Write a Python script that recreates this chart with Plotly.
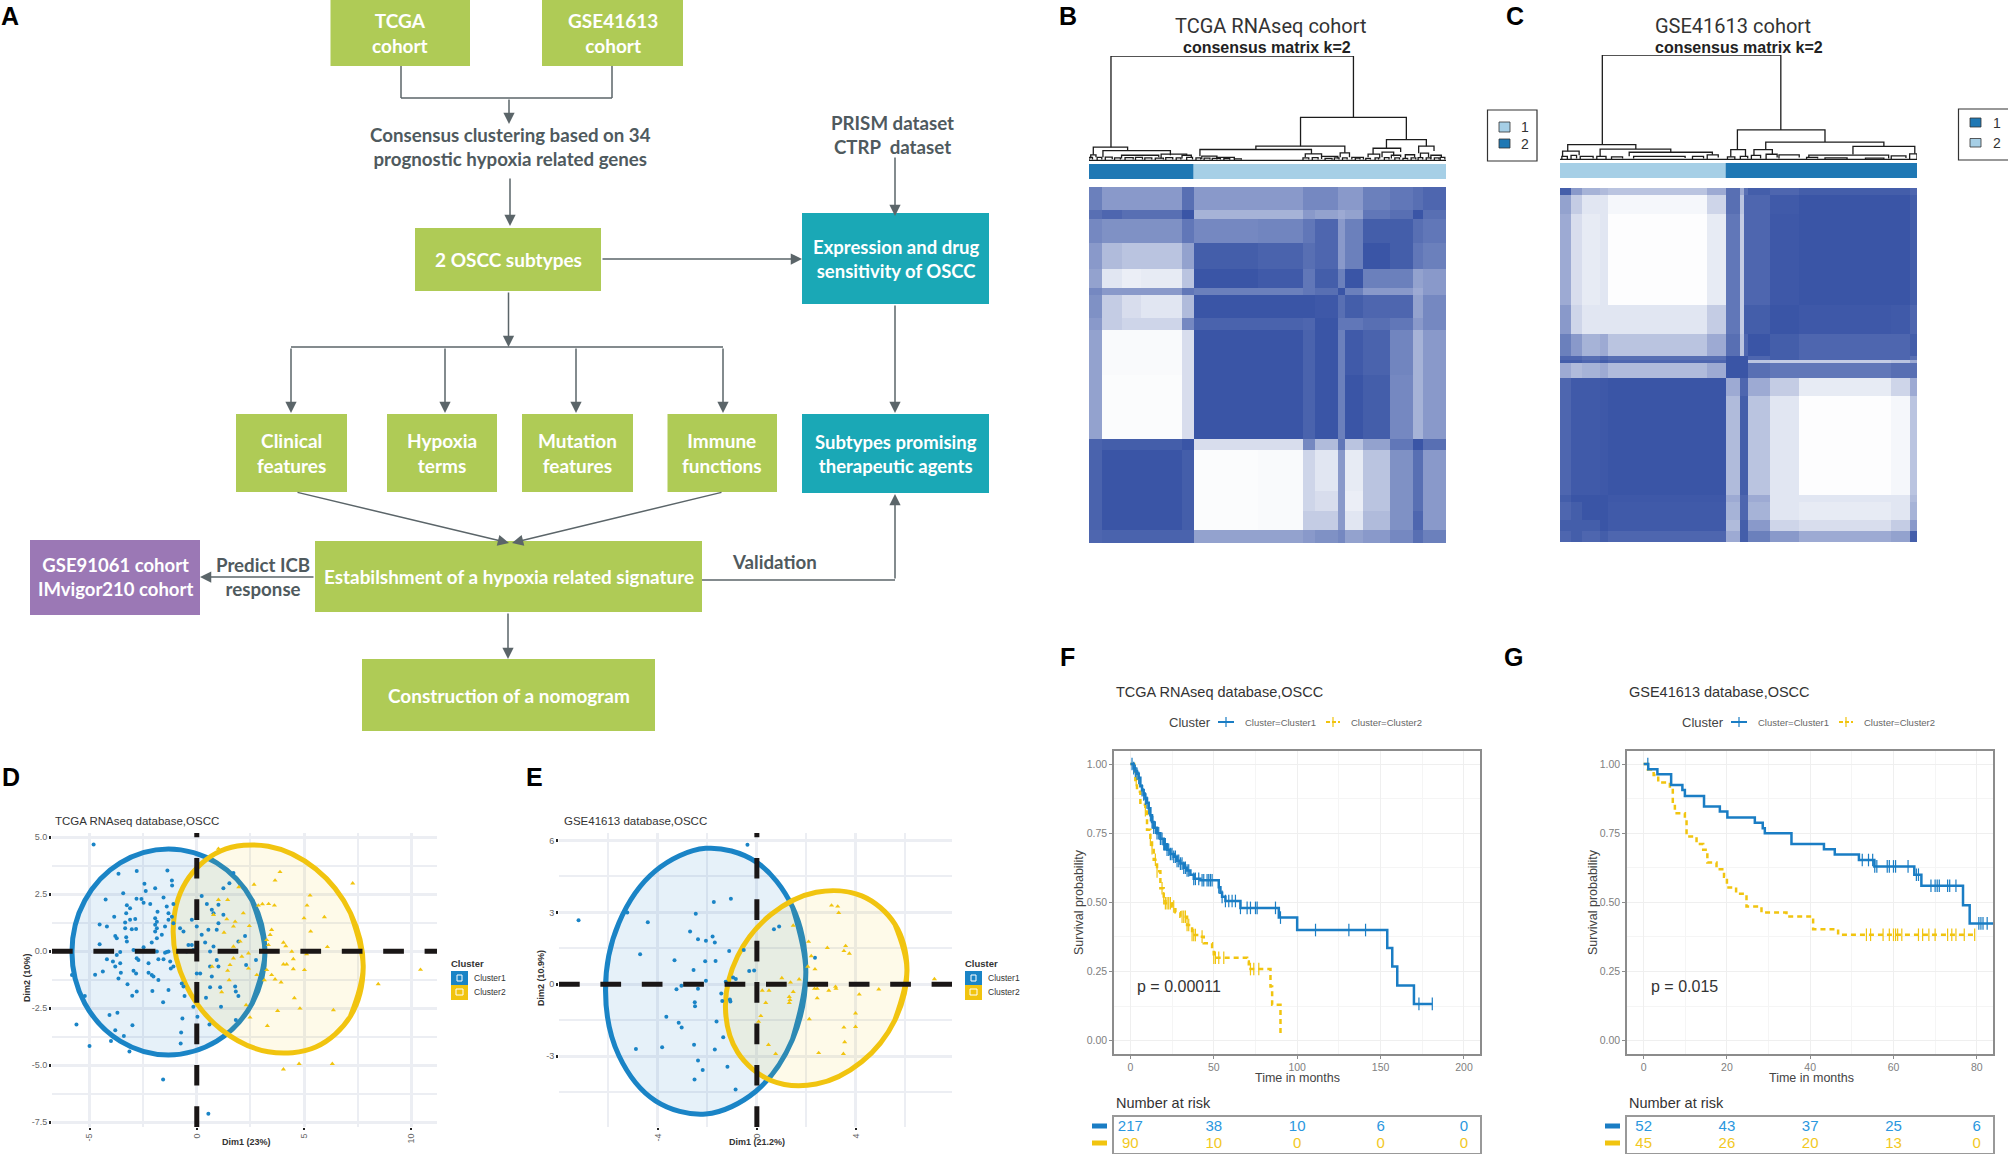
import numpy as np
import plotly.graph_objects as go

W, H = 2008, 1154
BLUE, YEL = "#1A84C6", "#F1C40F"
GREEN, TEAL, PURPLE = "#AFCB56", "#1AA8B6", "#9B78B5"
LIGHTBAR, DARKBAR = "#A6CFE6", "#1F78B4"
ARROW = "#5B6569"
FLOW = "Lato,'Open Sans',sans-serif"
ROBOTO = "Roboto,'Liberation Sans',sans-serif"
ARIAL = "'Liberation Sans',Arial,sans-serif"

# ---------- flowchart text ----------
green_labels = ["TCGA<br>cohort", "GSE41613<br>cohort", "2 OSCC subtypes", "Clinical<br>features", "Hypoxia<br>terms",
                "Mutation<br>features", "Immune<br>functions", "Estabilshment of a hypoxia related signature",
                "Construction of a nomogram"]
teal_labels = ["Expression and drug<br>sensitivity of OSCC", "Subtypes promising<br>therapeutic agents"]
purple_labels = ["GSE91061 cohort<br>IMvigor210 cohort"]

# ---------- consensus matrices ----------
b_edges = [0, 11, 28, 45, 80, 90, 145, 184, 194, 214, 220, 236, 259, 279, 287, 307]
b_matrix = [
    [.9, .92, .92, .92, .92, .55, .55, .6, .65, .7, .55, .6, .7, .85, .75],
    [.92, 1, 1, 1, .95, .02, .03, .3, .3, .6, .15, .4, .65, .9, .6],
    [.92, 1, 1, 1, .95, .02, .03, .25, .2, .6, .1, .35, .65, .85, .6],
    [.92, 1, 1, 1, .95, .02, .03, .25, .15, .6, .12, .35, .65, .85, .6],
    [.92, .95, .95, .95, 1, .2, .2, .7, .4, .8, .35, .55, .8, 1, .85],
    [.55, .02, .02, .02, .2, 1, 1, .92, 1, .75, 1, .95, .7, .45, .6],
    [.55, .03, .03, .03, .2, 1, 1, .92, 1, .75, .97, .92, .72, .45, .6],
    [.6, .3, .25, .25, .7, .92, .92, .9, 1, .8, .8, .85, .8, .6, .7],
    [.65, .3, .2, .15, .4, 1, 1, 1, .98, .85, .95, .9, .9, .55, .7],
    [.7, .6, .6, .6, .8, .75, .75, .8, .85, 1, .75, .6, .6, .5, .6],
    [.55, .15, .1, .12, .35, 1, .97, .8, .95, .75, 1, .75, .75, .55, .6],
    [.6, .4, .35, .35, .55, .95, .92, .85, .9, .6, .75, 1, .95, .8, .75],
    [.7, .65, .65, .65, .8, .7, .72, .8, .9, .6, .75, .95, .95, .85, .8],
    [.85, .9, .85, .85, 1, .45, .45, .6, .55, .5, .55, .8, .85, 1, .85],
    [.75, .6, .6, .6, .85, .6, .6, .7, .7, .6, .6, .75, .8, .85, .9],
]
c_edges = [0, 3, 6, 11, 13, 40, 45, 49, 50, 51, 57, 65, 90, 95, 97]
c_matrix = [
    [.9, .95, .9, .95, .9, .9, .5, .95, .95, .75, .6, .5, .55, .95],
    [.95, .95, .95, 1, .97, .97, .4, .95, .95, .6, .25, .2, .3, .6],
    [.9, .95, 1, 1, .97, .97, .45, .9, .9, .45, .15, .12, .15, .45],
    [.95, 1, 1, 1, .98, .98, .5, .9, .9, .5, .15, .15, .15, .4],
    [.9, .97, .97, .98, 1, 1, .4, .95, .95, .35, .15, .01, .05, .35],
    [.9, .97, .97, .98, 1, 1, .5, .9, .9, .5, .3, .12, .25, .5],
    [.5, .4, .45, .5, .4, .5, 1, 1, 1, .85, .8, .8, .85, .85],
    [.95, .95, .9, .95, .9, .9, 1, 1, 1, .35, .3, .3, .35, .5],
    [.9, .9, .85, .9, .85, .85, 1, 1, 1, .9, .95, .9, .9, .85],
    [.75, .6, .45, .5, .35, .5, .85, .35, .9, 1, .95, .9, .9, .95],
    [.6, .25, .15, .15, .15, .3, .8, .3, .95, .95, 1, .98, .97, .9],
    [.5, .2, .12, .15, .01, .12, .8, .3, .9, .9, .98, 1, 1, .95],
    [.55, .3, .15, .15, .05, .25, .85, .35, .9, .9, .97, 1, 1, .95],
    [.95, .6, .45, .4, .35, .5, .85, .5, .85, .95, .9, .95, .95, .9],
]
heat_scale = [[0, "#FFFFFF"], [1, "#3A55A6"]]

# ---------- dendrogram links: left, right, height, left drop, right drop ----------
b_links = [
    (18.9, 227.4, 1, .127, .413), (181.9, 272.9, .413, .137, .2), (143.5, 220, .137, .105, .073),
    (95.4, 191.3, .105, .041, .063), (255.8, 290.1, .2, .117, .137), (244.3, 268, .117, .06, .08),
    (283.5, 296.7, .137, .07, .09), (3.7, 33.2, .127, .054, .095), (1.5, 6, .054, .02, .03),
    (12, 70, .095, .03, .05), (28, 60, .05, .02, .03), (62, 84, .06, .02, .05), (80, 88, .05, .02, .03),
    (97, 110, .041, .015, .02), (110, 125, .03, .01, .015), (186, 200, .063, .03, .03), (200, 214, .04, .015, .02),
    (216, 224, .073, .03, .03), (226, 236, .03, .01, .01), (240, 250, .06, .03, .02), (252, 262, .08, .03, .04),
    (260, 268, .05, .02, .03), (272, 280, .055, .02, .03), (285, 292, .07, .03, .03), (294, 303, .05, .02, .03),
    (0, 3, .03, 0, .01), (7, 11, .03, 0, .01), (14, 20, .032, 0, .012), (22, 27, .025, 0, .01), (31, 38, .028, 0, .01),
    (40, 46, .03, 0, .01), (48, 54, .025, 0, .01), (57, 64, .022, 0, .01), (66, 72, .028, 0, .01), (75, 79, .025, 0, .01),
    (84, 89, .03, 0, .01), (92, 96, .025, 0, .01), (99, 104, .022, 0, .01), (106, 113, .02, 0, .01), (116, 121, .018, 0, .008),
    (125, 131, .015, 0, .006), (184, 189, .025, 0, .01), (192, 197, .028, 0, .01), (203, 209, .02, 0, .008), (211, 215, .025, 0, .01),
    (218, 222, .025, 0, .01), (229, 233, .022, 0, .01), (238, 242, .02, 0, .01), (246, 249, .025, 0, .01), (254, 258, .028, 0, .01),
    (263, 267, .025, 0, .01), (270, 274, .02, 0, .01), (277, 281, .025, 0, .01), (283, 287, .028, 0, .01), (290, 294, .025, 0, .01),
    (297, 301, .025, 0, .01), (302, 306, .03, 0, .01),
]
c_links = [
    (11.5, 60, 1, .142, .283), (2.1, 20.6, .142, .079, .1), (10.9, 30.1, .1, .03, .069), (18.8, 41.4, .069, .03, .045),
    (.7, 5.2, .079, .03, .04), (.5, 2, .03, 0, 0), (3, 4.5, .04, 0, .01), (5.5, 9, .03, 0, .01), (10, 12.5, .03, 0, 0),
    (14, 17, .025, 0, .01), (20, 34, .03, .01, .015), (36, 39, .03, 0, .01), (40, 43, .045, 0, .02),
    (48.2, 72, .283, .094, .167), (46.4, 50.4, .094, .025, .03), (45.5, 47.5, .025, 0, 0), (49, 51, .03, 0, .01),
    (55.9, 88, .167, .094, .126), (52.7, 57.7, .094, .04, .05), (52, 54.5, .04, 0, .01), (56, 59, .05, 0, .02),
    (59.5, 65, .045, .01, .02), (79.6, 96.4, .126, .047, .054), (67.6, 89.3, .042, .02, .01), (67, 70, .02, 0, .01),
    (72, 78, .015, 0, .005), (90, 94, .035, 0, .015), (95, 97, .054, 0, 0), (83, 88, .012, 0, .005),
]
b_groups = [90, 217]
c_groups = [45, 52]

# ---------- PCA panel D ----------
d_blue_x = [-4.81,-3.65,-2.80,-1.37,-1.16,-1.15,-2.44,-2.38,-1.94,-3.43,-4.25,-2.81,-2.58,-2.48,-2.17,-1.55,-1.09,-3.26,-3.11,-3.29,-3.85,-1.83,-1.40,-1.32,-1.16,-4.53,-4.19,-3.34,-3.11,-2.87,-3.34,-3.03,-2.83,-1.94,-1.86,-1.94,-1.86,-1.94,-1.48,-3.80,-3.73,-3.29,-3.26,-4.53,-2.48,-2.10,-1.86,-1.63,-1.32,-1.09,-.78,-.62,-.23,0,.23,.47,.70,.78,1.01,1.24,1.52,1.71,1.24,1.01,.93,.54,.23,-.23,-.39,-.16,-.47,-1.32,-1.48,-1.40,-1.86,-2.95,-3.57,-3.73,-4.19,-3.91,-3.80,-3.57,-2.80,-2.72,-2.25,-1.79,-1.55,-1.24,-1.09,-1.21,-4.74,-4.38,-3.65,-3.54,-2.95,-2.83,-2.25,-2.10,-1.79,-2.02,-3.23,-2.80,-3.01,-2.07,-1.32,-1.57,-.70,-.62,-.57,0,.16,.62,.93,.62,.39,.78,1.01,.70,.62,1.09,.43,1.79,1.82,1.94,2.25,1.94,2.76,2.30,-.16,1.13,-.67,.03,.59,1.82,-3.0,-4.07,-3.70,-3.80,-3.40,-5.61,-5.0,-4.0,-3.14,-.73,-.75,-5.82,-5.22,-1.57,.54]
d_blue_y = [4.68,3.40,3.52,3.55,3.11,2.89,2.96,2.65,2.77,2.55,2.27,2.30,2.29,2.13,2.07,2.36,2.08,2.02,1.89,1.67,1.52,1.73,1.96,1.67,1.52,1.17,1.09,1.26,1.38,1.42,1.01,.97,.98,1.45,1.30,1.16,1.01,.87,1.09,.67,.57,.62,.43,.31,.18,.38,.57,.72,1.38,1.23,1.01,.87,1.38,1.09,2.43,2.07,1.82,1.67,2.04,2.77,2.99,3.43,1.60,1.23,.94,.94,.72,.28,.28,.06,-.01,-.01,-.06,-.03,-.01,.06,-.03,-.16,-.35,-.45,-.67,-.53,-.31,-.38,-.53,-.35,-.35,-.45,-.67,-.75,-1.03,-.89,-1.19,-.94,-.85,-.97,-.94,-1.04,-1.26,-1.11,-1.45,-1.77,-1.95,-1.74,-1.70,-2.24,-1.41,-1.55,-1.96,-.97,-.97,-.67,-.38,-.01,.38,.21,-.67,-1.11,-1.58,-1.58,-2.04,-1.55,-1.77,-1.96,.67,.43,-.38,-.60,-2.43,-2.43,-2.95,-2.87,-3.21,-3.02,-3.24,-2.80,-2.70,-3.46,-3.72,-3.21,-4.16,-3.94,-4.40,-3.56,-4.05,-1.04,-1.96,-5.63,-7.13]
d_yel_x = [1.01,3.88,3.65,2.67,7.27,1.96,5.28,1.01,1.44,2.87,3.06,3.35,3.62,5.14,.78,1.40,1.79,2.17,2.45,1.71,5.95,5.0,3.49,3.42,5.31,1.27,3.26,3.34,4.04,4.15,6.09,2.02,1.71,3.57,4.43,5.12,4.50,2.41,2.10,1.71,1.55,4.04,4.19,4.50,5.02,.71,1.44,2.41,3.26,2.80,3.49,3.65,3.93,3.15,10.43,8.46,1.51,1.16,4.55,4.81,3.77,6.37,2.30,2.48,3.29,4.04,4.77,6.32]
d_yel_y = [4.50,3.48,3.11,2.93,2.98,2.82,2.45,2.26,2.26,2.01,2.07,2.08,2.01,2.01,1.60,1.41,1.30,1.67,1.11,1.09,1.50,1.45,.94,.72,.87,.82,.50,.28,.38,.23,.19,.43,.21,-.01,-.01,-.12,-.34,-.09,-.23,-.31,-.60,-.57,-.57,-.78,-.82,-.67,-.85,-.75,-.82,-1.04,-1.04,-1.23,-1.36,-1.26,-.81,-1.44,-1.26,-1.79,-2.05,-2.51,-2.61,-2.58,-2.36,-2.90,-3.27,-5.18,-4.94,-4.94]
d_ell_blue_x = [2.58,3.18,2.58,.93,-1.32,-3.57,-5.22,-5.82,-5.22,-3.57,-1.32,.93,2.58,3.18,2.58]
d_ell_blue_y = [-2.29,-.03,2.23,3.88,4.49,3.88,2.23,-.03,-2.29,-3.94,-4.55,-3.94,-2.29,-.03,2.23]
d_ell_yel_x = [7.17,7.76,7.17,5.55,3.33,1.11,-.51,-1.10,-.51,1.11,3.33,5.55,7.17,7.76,7.17]
d_ell_yel_y = [-2.84,-.70,1.67,3.61,4.61,4.40,3.04,.90,-1.47,-3.41,-4.41,-4.20,-2.84,-.70,1.67]

# ---------- PCA panel E ----------
e_blue_x = [-.38,-1.05,-1.74,-2.47,-5.24,-7.21,-4.41,-2.70,-1.79,-1.70,-2.38,-2.06,-4.72,-3.33,-2.09,-1.67,-1.12,-.53,-2.56,-.31,-.11,-2.06,-1.26,-.96,-.85,-3.25,-3.05,-2.38,-1.44,-2.51,-2.50,-1.40,-1.09,-1.07,-3.66,-3.16,-3.04,-1.63,-1.36,-4.89,-3.83,-2.54,-1.70,-2.38,-1.19,-2.19,-2.52,-.86,.69,.90,2.35]
e_blue_y = [5.82,3.57,3.43,2.94,2.99,2.67,2.59,2.20,1.99,1.74,1.88,1.82,1.25,1.0,.96,.97,1.39,1.43,.60,.56,.58,.15,.11,.28,.22,-.21,-.06,-.18,-.38,-.75,-.91,-.70,-.63,-.72,-1.35,-1.60,-1.80,-1.55,-2.21,-2.70,-2.62,-2.52,-2.72,-3.18,-3.44,-3.57,-3.97,-4.39,2.30,2.41,1.11]
e_yel_x = [3.02,3.27,3.31,1.47,2.09,2.85,3.59,3.52,3.74,2.20,2.06,2.35,1.01,1.36,1.71,7.18,3.18,3.20,2.33,2.44,2.91,.22,.49,4.93,1.47,1.31,1.34,1.31,.36,2.44,4.14,.16,.07,2.12,3.99,3.99,3.52,3.55,.47,.76,2.50,3.50]
e_yel_y = [3.29,3.25,2.98,2.45,1.78,1.52,1.60,1.39,1.28,1.18,.74,.63,.26,.08,.21,.22,-.10,-.18,-.18,-.18,-.26,-.26,-.26,-.21,-.31,-.52,-.65,-.77,-.77,-.58,-.42,-1.32,-1.56,-1.45,-1.21,-1.77,-1.80,-2.41,-2.52,-2.90,-2.86,-2.90]
e_ell_blue_x = [1.44,1.98,1.44,-.05,-2.07,-4.10,-5.58,-6.12,-5.58,-4.10,-2.07,-.05,1.44,1.98,1.44]
e_ell_blue_y = [-2.30,.52,3.23,5.12,5.67,4.73,2.56,-.26,-2.97,-4.86,-5.41,-4.47,-2.30,.52,3.23]
e_ell_yel_x = [5.58,6.07,5.58,4.24,2.40,.57,-.78,-1.27,-.78,.57,2.40,4.24,5.58,6.07,5.58]
e_ell_yel_y = [-1.49,.62,2.51,3.69,3.84,2.91,1.17,-.94,-2.83,-4.01,-4.16,-3.23,-1.49,.62,2.51]

# ---------- survival panel F ----------
f_blue_t = [0,2,3,4,5,6,7,8,9,10,11,12,13,14,16,18,20,22,24,26,28,30,32,34,36,38,42,53,54,55,57,66,89,100,154,157,160,170,181]
f_blue_s = [1,.985,.975,.965,.95,.92,.905,.89,.875,.86,.84,.815,.79,.77,.75,.73,.71,.69,.675,.665,.65,.64,.625,.615,.60,.585,.58,.555,.535,.52,.505,.48,.445,.40,.335,.268,.2,.133,.133]
f_blue_cens = [1,2,3,4,5,7,8,9,10,11,12,13,13.5,14,15,16,17,18,19,20,20.5,21,22,23,24,25,26,27,28,29,30,31,32,33,34,35,38,39,41,43,44,46,47,48,49,53,55,57,59,61,63,66,70,72,75,76,87,90,111,131,141,173,181]
f_yel_t = [0,3,4,6,9,10,12,13,14,16,18,20,21,25,27,30,34,37,42,44,49,50,70,71,84,85,90]
f_yel_s = [1,.942,.90,.853,.833,.762,.726,.696,.654,.612,.551,.515,.497,.485,.464,.448,.418,.382,.376,.352,.321,.30,.286,.259,.196,.13,.016]
f_yel_cens = [3.5,9,12,13,15,16,19,20,21,22,23,24,26,31,32,33,34,35,37,38,39,43,50,51,53,56,72,74,77]
f_risk_t = [0,50,100,150,200]
f_risk_blue = [217,38,10,6,0]
f_risk_yel = [90,10,0,0,0]

# ---------- survival panel G ----------
g_blue_t = [0,1.1,3.3,6.6,9.3,9.9,14.5,18.3,20.1,26.7,28.6,29.1,35.5,43.3,45.9,51.7,55.4,65,66.7,76.7,78.3,83.9]
g_blue_s = [1,.981,.963,.924,.906,.884,.846,.828,.807,.788,.768,.75,.711,.692,.673,.653,.63,.60,.56,.49,.424,.424]
g_blue_cens = [1,52.5,54,55,55.5,56,58.5,59,60,60.5,63.5,65.5,66,69,70,70.5,71,73,73.5,75,80.5,81,81.5,82.5]
g_yel_t = [0,1,2.4,3.5,6.3,7,7.5,9.9,10.3,12.7,14.3,15.3,17.5,19.3,20,22.2,24.7,28.3,34.3,40.7,46.7,79.5]
g_yel_s = [1,.98,.96,.933,.912,.864,.822,.798,.738,.711,.69,.644,.62,.593,.554,.531,.485,.463,.449,.403,.383,.383]
g_yel_cens = [53.5,54.5,57.5,59,60,60.5,61,62,66,67,68.5,70,73,74,75,77,79.5]
g_risk_t = [0,20,40,60,80]
g_risk_blue = [52,43,37,25,6]
g_risk_yel = [45,26,20,13,0]

# ---------- helpers ----------
fig = go.Figure()
shapes, notes = [], []
px = lambda x: x / W
py = lambda y: 1 - y / H


def note(x, y, text, size=12, color="#333", xa="center", ya="middle", family=ARIAL, angle=0):
    notes.append(dict(x=px(x), y=py(y), xref="paper", yref="paper", text=text, showarrow=False, xanchor=xa, yanchor=ya,
                      textangle=angle, align="center", font=dict(size=size, color=color, family=family)))


def rect(x0, y0, x1, y1, fill, line=None, lw=0):
    shapes.append(dict(type="rect", xref="paper", yref="paper", x0=px(x0), x1=px(x1), y0=py(y1), y1=py(y0),
                       fillcolor=fill, line=dict(color=line or fill, width=lw)))


def seg(x0, y0, x1, y1, color=ARROW, lw=1.5, dash=None):
    shapes.append(dict(type="line", xref="paper", yref="paper", x0=px(x0), x1=px(x1), y0=py(y0), y1=py(y1),
                       line=dict(color=color, width=lw, dash=dash)))


def arrow(x0, y0, x1, y1):
    notes.append(dict(x=px(x1), y=py(y1), xref="paper", yref="paper", ax=x0 - x1, ay=y0 - y1, axref="pixel", ayref="pixel",
                      text="", showarrow=True, arrowhead=2, arrowsize=1.5, arrowwidth=1.5, arrowcolor=ARROW, standoff=0))


axes = {}
def axis(n, x0, x1, y0, y1, xo=None, yo=None):
    axes[f"xaxis{n}"] = dict(domain=[px(x0), px(x1)], anchor=f"y{n}", **(xo or {}))
    axes[f"yaxis{n}"] = dict(domain=[py(y1), py(y0)], anchor=f"x{n}", **(yo or {}))


HIDE = dict(visible=False, fixedrange=True)

# ---------- panel A ----------
green_pos = [(330.5, 0, 470, 66), (542, 0, 683, 66), (415, 228, 601, 291), (236, 414, 347, 492), (387, 414, 497, 492),
             (522, 414, 633, 492), (667.5, 414, 777, 492), (315, 541, 702, 612), (362, 659, 655, 731)]
green_sizes = [19, 19, 19, 19, 19, 19, 19, 18.9, 19]
for lab, (a, b, c, d), sz in zip(green_labels, green_pos, green_sizes):
    rect(a, b, c, d, GREEN)
    note((a + c) / 2, (b + d) / 2, f"<b>{lab}</b>", sz, "white", family=FLOW)
teal_pos = [(802, 213, 989, 304), (802, 414, 989, 493)]
for lab, (a, b, c, d) in zip(teal_labels, teal_pos):
    rect(a, b, c, d, TEAL)
    note((a + c) / 2, (b + d) / 2, f"<b>{lab}</b>", 18.5, "white", family=FLOW)
rect(30, 540, 200, 615, PURPLE)
note(115, 577, f"<b>{purple_labels[0]}</b>", 18.5, "white", family=FLOW)
note(510, 147, "<b>Consensus clustering based on 34<br>prognostic hypoxia related genes</b>", 18.7, "#4F5A5E", family=FLOW)
note(892, 135, "<b>PRISM dataset<br>CTRP  dataset</b>", 18.7, "#4F5A5E", family=FLOW)
note(263, 577, "<b>Predict ICB<br>response</b>", 18.7, "#4F5A5E", family=FLOW)
note(774, 562, "<b>Validation</b>", 18.7, "#4F5A5E", family=FLOW)

seg(401, 66, 401, 98); seg(612, 66, 612, 98); seg(401, 98, 612, 98)
arrow(509, 98, 509, 124)
arrow(510, 177, 510, 226)
arrow(895, 156, 895, 216)
arrow(601, 259, 802, 259)
arrow(508.5, 291, 508.5, 347)
seg(291, 347, 723, 347)
for xx in (291, 445, 576, 723):
    arrow(xx, 347, xx, 413)
arrow(895, 304, 895, 413)
arrow(296, 492, 509, 543)
arrow(723, 492, 512, 543)
arrow(315, 577, 200, 577)
seg(702, 580, 895, 580)
arrow(895, 580, 895, 494)
arrow(508, 612, 508, 659)

# ---------- panel letters ----------
for (x, y, t) in [(10, 16, "A"), (1068, 16, "B"), (1515, 16, "C"), (11, 777, "D"), (534, 777, "E"), (1067, 657, "F"), (1513, 657, "G")]:
    note(x, y, f"<b>{t}</b>", 25, "black", family=ARIAL)


# ---------- panels B and C ----------
def consensus(n, x0, x1, hy0, hy1, by0, by1, dy0, dy1, edges, matrix, links, groups, colors):
    total = edges[-1]
    axis(n, x0, x1, hy0, hy1, dict(HIDE, range=[0, total]), dict(HIDE, range=[0, total]))
    fig.add_trace(go.Heatmap(x=edges, y=edges, z=matrix, zmin=0, zmax=1, colorscale=heat_scale, showscale=False,
                             hoverinfo="skip", xaxis=f"x{n}", yaxis=f"y{n}"))
    axis(n + 1, x0, x1, by0, by1, dict(HIDE, range=[0, total]), dict(HIDE, range=[-.5, .5]))
    fig.add_trace(go.Bar(x=groups, base=[0, groups[0]], y=[0, 0], width=1, orientation="h", marker=dict(color=colors, line_width=0),
                         xaxis=f"x{n + 1}", yaxis=f"y{n + 1}", hoverinfo="skip", showlegend=False))
    axis(n + 2, x0, x1, dy0, dy1, dict(HIDE, range=[0, total]), dict(HIDE, range=[-.005, 1]))
    xs, ys = [0, total, None], [0, 0, None]
    for (l, r, h, hl, hr) in links:
        xs += [l, l, r, r, None]
        ys += [hl, h, h, hr, None]
    fig.add_trace(go.Scatter(x=xs, y=ys, mode="lines", line=dict(color="#1c1c1c", width=1.3), showlegend=False, hoverinfo="skip",
                             xaxis=f"x{n + 2}", yaxis=f"y{n + 2}", cliponaxis=False))


consensus(2, 1089, 1446, 187, 543, 164, 179, 56, 161, b_edges, b_matrix, b_links, b_groups, [DARKBAR, LIGHTBAR])
consensus(5, 1560, 1917, 188, 542, 163, 178, 55, 160, c_edges, c_matrix, c_links, c_groups, [LIGHTBAR, DARKBAR])
note(1270, 26, "TCGA RNAseq cohort", 20, "#333", family=ROBOTO)
note(1267, 48, "<b>consensus matrix k=2</b>", 16, "#222", family=ARIAL)
note(1733, 26, "GSE41613 cohort", 20, "#333", family=ROBOTO)
note(1739, 47.5, "<b>consensus matrix k=2</b>", 16, "#222", family=ARIAL)
rect(1487.5, 110, 1537, 161, "white", "#333", 1.2)
rect(1499, 122, 1510, 132, LIGHTBAR, "#333", .8)
rect(1499, 139, 1510, 148, DARKBAR, "#333", .8)
note(1525, 127.5, "1", 14, "#333"); note(1525, 144.5, "2", 14, "#333")
rect(1958.5, 109, 2012, 160, "white", "#333", 1.2)
rect(1970, 118, 1981, 127, DARKBAR, "#333", .8)
rect(1970, 138.5, 1981, 147, LIGHTBAR, "#333", .8)
note(1997, 123, "1", 14, "#333"); note(1997, 143, "2", 14, "#333")


# ---------- panels D and E ----------
def pca(n, x0, x1, xr, yr, xt, xm, yt, yl, ym, bx, by, yx, yy, ebx, eby, eyx, eyy):
    grid = "#ECEEF3"
    xo = dict(range=xr, tickvals=xt, ticktext=[str(v) for v in xt], tickangle=-90, showgrid=True, gridcolor=grid, gridwidth=2.6,
              zeroline=False, showline=False, ticks="outside", ticklen=2, tickwidth=1.5, tickcolor="#222",
              tickfont=dict(size=9, color="#666", family=ARIAL), minor=dict(tickvals=xm, showgrid=True, gridcolor=grid, gridwidth=2.2), fixedrange=True)
    yo = dict(range=yr, tickvals=yt, ticktext=yl, showgrid=True, gridcolor=grid, gridwidth=2.6, zeroline=False, showline=False,
              ticks="outside", ticklen=2, tickwidth=2.5, tickcolor="#222", tickfont=dict(size=9, color="#666", family=ARIAL),
              minor=dict(tickvals=ym, showgrid=True, gridcolor=grid, gridwidth=1.6), fixedrange=True)
    axis(n, x0, x1, 833, 1127, xo, yo)
    kw = dict(xaxis=f"x{n}", yaxis=f"y{n}", showlegend=False, hoverinfo="skip")
    for (ex, ey, col, fill) in [(ebx, eby, BLUE, "rgba(26,132,198,0.11)"), (eyx, eyy, YEL, "rgba(241,196,15,0.09)")]:
        fig.add_trace(go.Scatter(x=ex, y=ey, mode="lines", fill="toself", fillcolor=fill,
                                 line=dict(color=col, width=5, shape="spline", smoothing=1), **kw))
    fig.add_trace(go.Scatter(x=bx, y=by, mode="markers", marker=dict(color=BLUE, size=4, symbol="circle"), **kw))
    fig.add_trace(go.Scatter(x=yx, y=yy, mode="markers", marker=dict(color=YEL, size=4.5, symbol="triangle-up"), **kw))
    dash = dict(color="#1a1616", width=5, dash="20.7px,20.7px")
    fig.add_trace(go.Scatter(x=xr, y=[0, 0], mode="lines", line=dash, **kw))
    fig.add_trace(go.Scatter(x=[0, 0], y=yr, mode="lines", line=dash, **kw))


pca(8, 52, 437, [-6.75, 11.2], [-7.71, 5.19], [-5, 0, 5, 10], [-2.5, 2.5, 7.5], [5, 2.5, 0, -2.5, -5, -7.5],
    ["5.0", "2.5", "0.0", "-2.5", "-5.0", "-7.5"], [3.75, 1.25, -1.25, -3.75, -6.25],
    d_blue_x, d_blue_y, d_yel_x, d_yel_y, d_ell_blue_x, d_ell_blue_y, d_ell_yel_x, d_ell_yel_y)
pca(9, 559, 952, [-8.0, 7.89], [-5.95, 6.31], [-4, 0, 4], [-6, -2, 2, 6], [6, 3, 0, -3], ["6", "3", "0", "-3"], [4.5, 1.5, -1.5, -4.5],
    e_blue_x, e_blue_y, e_yel_x, e_yel_y, e_ell_blue_x, e_ell_blue_y, e_ell_yel_x, e_ell_yel_y)
note(53, 821, "TCGA RNAseq database,OSCC", 11.5, "#333", xa="left")
note(562, 821, "GSE41613 database,OSCC", 11.5, "#333", xa="left")
note(246, 1142, "<b>Dim1 (23%)</b>", 9, "#333")
note(757, 1142, "<b>Dim1 (21.2%)</b>", 9, "#333")
note(27, 978, "<b>Dim2 (10%)</b>", 9, "#333", angle=-90)
note(541, 978, "<b>Dim2 (10.9%)</b>", 9, "#333", angle=-90)
for (lx, cx) in [(451, 467), (965, 981)]:
    note(cx, 964, "<b>Cluster</b>", 9.5, "#333")
    rect(lx, 971, lx + 17, 985, BLUE)
    rect(lx + 6, 975, lx + 11, 981, "rgba(0,0,0,0)", "white", 1)
    rect(lx, 985, lx + 17, 1000, YEL)
    rect(lx + 5, 989, lx + 12, 995, "rgba(0,0,0,0)", "white", 1)
    note(lx + 21, 978, "Cluster1", 8.5, "#333", xa="left")
    note(lx + 21, 992, "Cluster2", 8.5, "#333", xa="left")


# ---------- panels F and G ----------
def at_time(times, t, s):
    return [s[int(np.searchsorted(t, c, side="right")) - 1] for c in times]


def survival(n, x0, x1, xr, xt, xm, bt, bs, bc, yt, ys, yc, rt, rb, ry):
    ln = "#8C8C8C"
    xo = dict(range=xr, tickvals=xt, showgrid=True, gridcolor="#EFEFEF", gridwidth=.8, zeroline=False, showline=True, mirror=True,
              linecolor=ln, linewidth=1.5, ticks="outside", ticklen=3, tickcolor=ln, tickfont=dict(size=10.5, color="#808080", family=ARIAL),
              minor=dict(tickvals=xm, showgrid=True, gridcolor="#F5F5F5", gridwidth=.6), fixedrange=True)
    yo = dict(range=[-.048, 1.047], tickvals=[0, .25, .5, .75, 1], tickformat=".2f", showgrid=True, gridcolor="#EFEFEF", gridwidth=.8,
              zeroline=False, showline=True, mirror=True, linecolor=ln, linewidth=1.5, ticks="outside", ticklen=3, tickcolor=ln,
              tickfont=dict(size=10.5, color="#808080", family=ARIAL), minor=dict(tickvals=[.125, .375, .625, .875], showgrid=True, gridcolor="#F5F5F5", gridwidth=.6), fixedrange=True)
    axis(n, x0, x1, 751, 1054, xo, yo)
    kw = dict(xaxis=f"x{n}", yaxis=f"y{n}", showlegend=False, hoverinfo="skip")
    fig.add_trace(go.Scatter(x=yt, y=ys, mode="lines", line=dict(color=YEL, width=2.5, shape="hv", dash="5px,4px"), **kw))
    fig.add_trace(go.Scatter(x=yc, y=at_time(yc, yt, ys), mode="markers",
                             marker=dict(symbol="line-ns", size=9, line=dict(color=YEL, width=1.2)), **kw))
    fig.add_trace(go.Scatter(x=bt, y=bs, mode="lines", line=dict(color="#1A7DC4", width=2.5, shape="hv"), **kw))
    fig.add_trace(go.Scatter(x=bc, y=at_time(bc, bt, bs), mode="markers",
                             marker=dict(symbol="line-ns", size=9, line=dict(color="#1A7DC4", width=1.2)), **kw))
    axr = dict(range=xr, showgrid=False, zeroline=False, showline=True, mirror=True, linecolor="#999", linewidth=1.8, ticks="", showticklabels=False, fixedrange=True)
    ayr = dict(range=[-.53, 1.59], showgrid=False, zeroline=False, showline=True, mirror=True, linecolor="#999", linewidth=1.8, ticks="", showticklabels=False, fixedrange=True)
    axis(n + 1, x0, x1, 1117, 1153, axr, ayr)
    fig.add_trace(go.Scatter(x=rt, y=[1] * len(rt), text=[str(v) for v in rb], mode="text", textposition="middle center", cliponaxis=False,
                             textfont=dict(size=15, color="#2B97DE", family=ARIAL), xaxis=f"x{n + 1}", yaxis=f"y{n + 1}", showlegend=False, hoverinfo="skip"))
    fig.add_trace(go.Scatter(x=rt, y=[0] * len(rt), text=[str(v) for v in ry], mode="text", textposition="middle center", cliponaxis=False,
                             textfont=dict(size=15, color="#F2C81E", family=ARIAL), xaxis=f"x{n + 1}", yaxis=f"y{n + 1}", showlegend=False, hoverinfo="skip"))


survival(10, 1114, 1480, [-9.8, 209.6], [0, 50, 100, 150, 200], [25, 75, 125, 175], f_blue_t, f_blue_s, f_blue_cens,
         f_yel_t, f_yel_s, f_yel_cens, f_risk_t, f_risk_blue, f_risk_yel)
survival(12, 1627, 1993, [-4, 83.9], [0, 20, 40, 60, 80], [10, 30, 50, 70], g_blue_t, g_blue_s, g_blue_cens,
         g_yel_t, g_yel_s, g_yel_cens, g_risk_t, g_risk_blue, g_risk_yel)

for (ox, title, ptxt, tx, px0, tm, sp, key) in [(0, "TCGA RNAseq database,OSCC", "p = 0.00011", 1114, 1135, 1297, 1079, 1092),
                                                (1, "GSE41613 database,OSCC", "p = 0.015", 1627, 1649, 1811, 1593, 1605)]:
    dx = 513 if ox else 0
    note(tx, 692, title, 14.5, "#333", xa="left")
    note(1190 + dx, 722, "Cluster", 13, "#444")
    seg(1218 + dx, 722, 1234 + dx, 722, "#1A7DC4", 2); seg(1226 + dx, 717, 1226 + dx, 727, "#1A7DC4", 1.2)
    note(1243 + dx, 722, "Cluster=Cluster1", 9.5, "#666", xa="left")
    seg(1326 + dx, 722, 1340 + dx, 722, YEL, 2, "4px,2px"); seg(1333 + dx, 717, 1333 + dx, 727, YEL, 1.2)
    note(1349 + dx, 722, "Cluster=Cluster2", 9.5, "#666", xa="left")
    note(px0, 986, ptxt, 16, "#333", xa="left")
    note(tm, 1078, "Time in months", 12.5, "#444")
    note(sp, 902, "Survival probability", 12.5, "#444", angle=-90)
    note(tx, 1103, "Number at risk", 14.5, "#333", xa="left")
    seg(key, 1126, key + 15, 1126, "#1A7DC4", 5)
    seg(key, 1143, key + 15, 1143, YEL, 5)

fig.update_layout(width=W, height=H, margin=dict(l=0, r=0, t=0, b=0), paper_bgcolor="white", plot_bgcolor="white",
                  showlegend=False, shapes=shapes, annotations=notes, barmode="overlay", **axes)
fig.write_html("out.html", config=dict(displayModeBar=False),
               post_script="document.body.style.margin='0';document.documentElement.style.overflow='hidden';")
